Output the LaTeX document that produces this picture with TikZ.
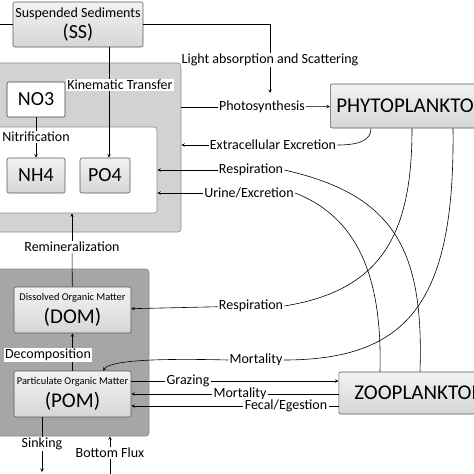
\documentclass[tikz,border=0pt]{standalone}
\usepackage{fontspec}
\setmainfont{Carlito}
\usetikzlibrary{arrows}

\begin{document}
\begin{tikzpicture}[
        > = stealth, % arrow head style
        x = 1pt, y = -1pt, % origin at the top left corner
        line width = 0.6pt % line style
    ]

    \tikzstyle{every node}=[inner sep = 1pt]
    \tikzstyle{pool}=[draw = gray!90, rounded corners = 3pt]
    \tikzstyle{box}=[draw = gray!70!black, rounded corners = 2pt,
    top color = gray!10, bottom color = gray!32]
    \tikzstyle{lbl}=[fill = white, font = \fontsize{14}{16}\selectfont]
    \tikzstyle{big}=[font = \fontsize{20}{21}\selectfont]

    \useasboundingbox (0,0) rectangle (474,474);
    \clip (0,0) rectangle (474,474);

    % nutrient pool
    \node[pool, fill = gray!35, minimum width = 196pt, minimum height = 169pt]
    (nut) at (83,147.5) {};
    \node[pool, fill = white, minimum width = 172pt, minimum height = 86pt]
    (inner) at (71,170) {};
    \node[big, draw = black!75, fill = white, rounded corners = 2pt,
    minimum width = 58pt, minimum height = 35pt] (no3) at (36,99.5) {NO3};
    \node[big, box, minimum width = 58pt, minimum height = 35pt] (nh4)
    at (36,175.5) {NH4};
    \node[big, box, minimum width = 50pt, minimum height = 35pt] (po4)
    at (105,175.5) {PO4};

    % organic matter pool
    \node[pool, fill = gray!70, minimum width = 164pt, minimum height = 167pt]
    (org) at (67,352.5) {};
    \node[box, align = center, minimum width = 117pt, minimum height = 46pt,
    font = \fontsize{21}{23}\selectfont] (dom) at (72.5,310)
    {{\fontsize{10.4}{12}\selectfont Dissolved Organic Matter}\\(DOM)};
    \node[box, align = center, minimum width = 117pt, minimum height = 46pt,
    font = \fontsize{21}{23}\selectfont] (pom) at (72.5,394)
    {{\fontsize{10.4}{12}\selectfont Particulate Organic Matter}\\(POM)};

    % sediments and plankton
    \node[box, align = center, minimum width = 130pt, minimum height = 45pt,
    font = \fontsize{20}{21}\selectfont] (ss) at (78,24.5)
    {{\fontsize{14}{16}\selectfont Suspended Sediments}\\(SS)};
    \node[box, anchor = west, inner xsep = 6pt, minimum height = 44pt,
    font = \fontsize{21}{22}\selectfont] (phyto) at (330,106) {PHYTOPLANKTON};
    \node[box, anchor = west, inner xsep = 15.5pt, minimum height = 42pt,
    font = \fontsize{21}{22}\selectfont] (zoo) at (338.5,393) {ZOOPLANKTON};

    % labels
    \node[lbl] (nitr) at (36,137) {Nitrification};
    \node[lbl] (photo) at (262,107) {Photosynthesis};
    \node[lbl] (extra) at (273,145) {Extracellular Excretion};
    \node[lbl] (resp1) at (251,170) {Respiration};
    \node[lbl] (urine) at (249,193) {Urine/Excretion};
    \node[lbl] (remin) at (72,247) {Remineralization};
    \node[lbl] (resp2) at (251,306) {Respiration};
    \node[lbl] (mort1) at (256,360) {Mortality};
    \node[lbl] (graz) at (188,381) {Grazing};
    \node[lbl] (mort2) at (240,394) {Mortality};
    \node[lbl] (fecal) at (286,406) {Fecal/Egestion};

    \coordinate (sun) at (-5,24.5); \coordinate (light) at (270,93);
    \coordinate (kin) at (109,0); \coordinate (sink) at (42,472);
    \coordinate (flux) at (110,478);

    % light and nutrients
    \draw (sun) -- (ss);
    \draw[->] (ss) -| node[lbl, pos = .76] {Light absorption and Scattering}
    (light);
    \draw[->] (ss.south -| kin) -- node[lbl, pos = .34, xshift = 11pt]
    {Kinematic Transfer} (po4.north -| kin);
    \draw (no3) -- (nitr); \draw[->] (nitr) -- (nh4);
    \draw (nut.east |- photo) -- (photo); \draw[->] (photo) -- (phyto);

    % phytoplankton losses
    \draw ([xshift = 41pt]phyto.south west) .. controls (371,140) and (360,145)
    .. (extra.east);
    \draw[->] (extra) -- (nut.east |- extra);
    \draw ([xshift = 82pt]phyto.south west) .. controls (412,230) and (385,290)
    .. (resp2.east);
    \draw[->] (resp2) -- (dom);
    \draw ([xshift = 123pt]phyto.south west) .. controls (455,300) and (410,360)
    .. (mort1.east);
    \draw[->] (mort1.west) .. controls (150,358) and (110,361)
    .. ([xshift = 30.5pt]pom.north);

    % zooplankton losses
    \draw ([xshift = 81.5pt]zoo.north west) .. controls (424,250) and (395,195)
    .. (resp1.east);
    \draw[->] (resp1) -- (inner.east |- resp1);
    \draw ([xshift = 41.5pt]zoo.north west) .. controls (382,290) and (365,220)
    .. (urine.east);
    \draw[->] (urine) -- (inner.east |- urine);
    \draw (pom.east |- graz) -- (graz); \draw[->] (graz) -- (zoo.west |- graz);
    \draw (zoo.west |- mort2) -- (mort2); \draw[->] (mort2) -- (pom.east |- mort2);
    \draw (zoo.west |- fecal) -- (fecal); \draw[->] (fecal) -- (pom.east |- fecal);

    % organic matter
    \draw (dom) -- (remin); \draw[->] (remin) -- (remin |- inner.south);
    \draw[->] (pom.north) -- node[lbl, pos = .42, xshift = -24.5pt]
    {Decomposition} (dom.south);
    \draw[->] (pom.south -| sink) -- node[lbl, pos = .49] {Sinking} (sink);
    \draw[->] (flux) -- node[lbl, pos = .6] {Bottom Flux} (org.south -| flux);

\end{tikzpicture}
\end{document}
